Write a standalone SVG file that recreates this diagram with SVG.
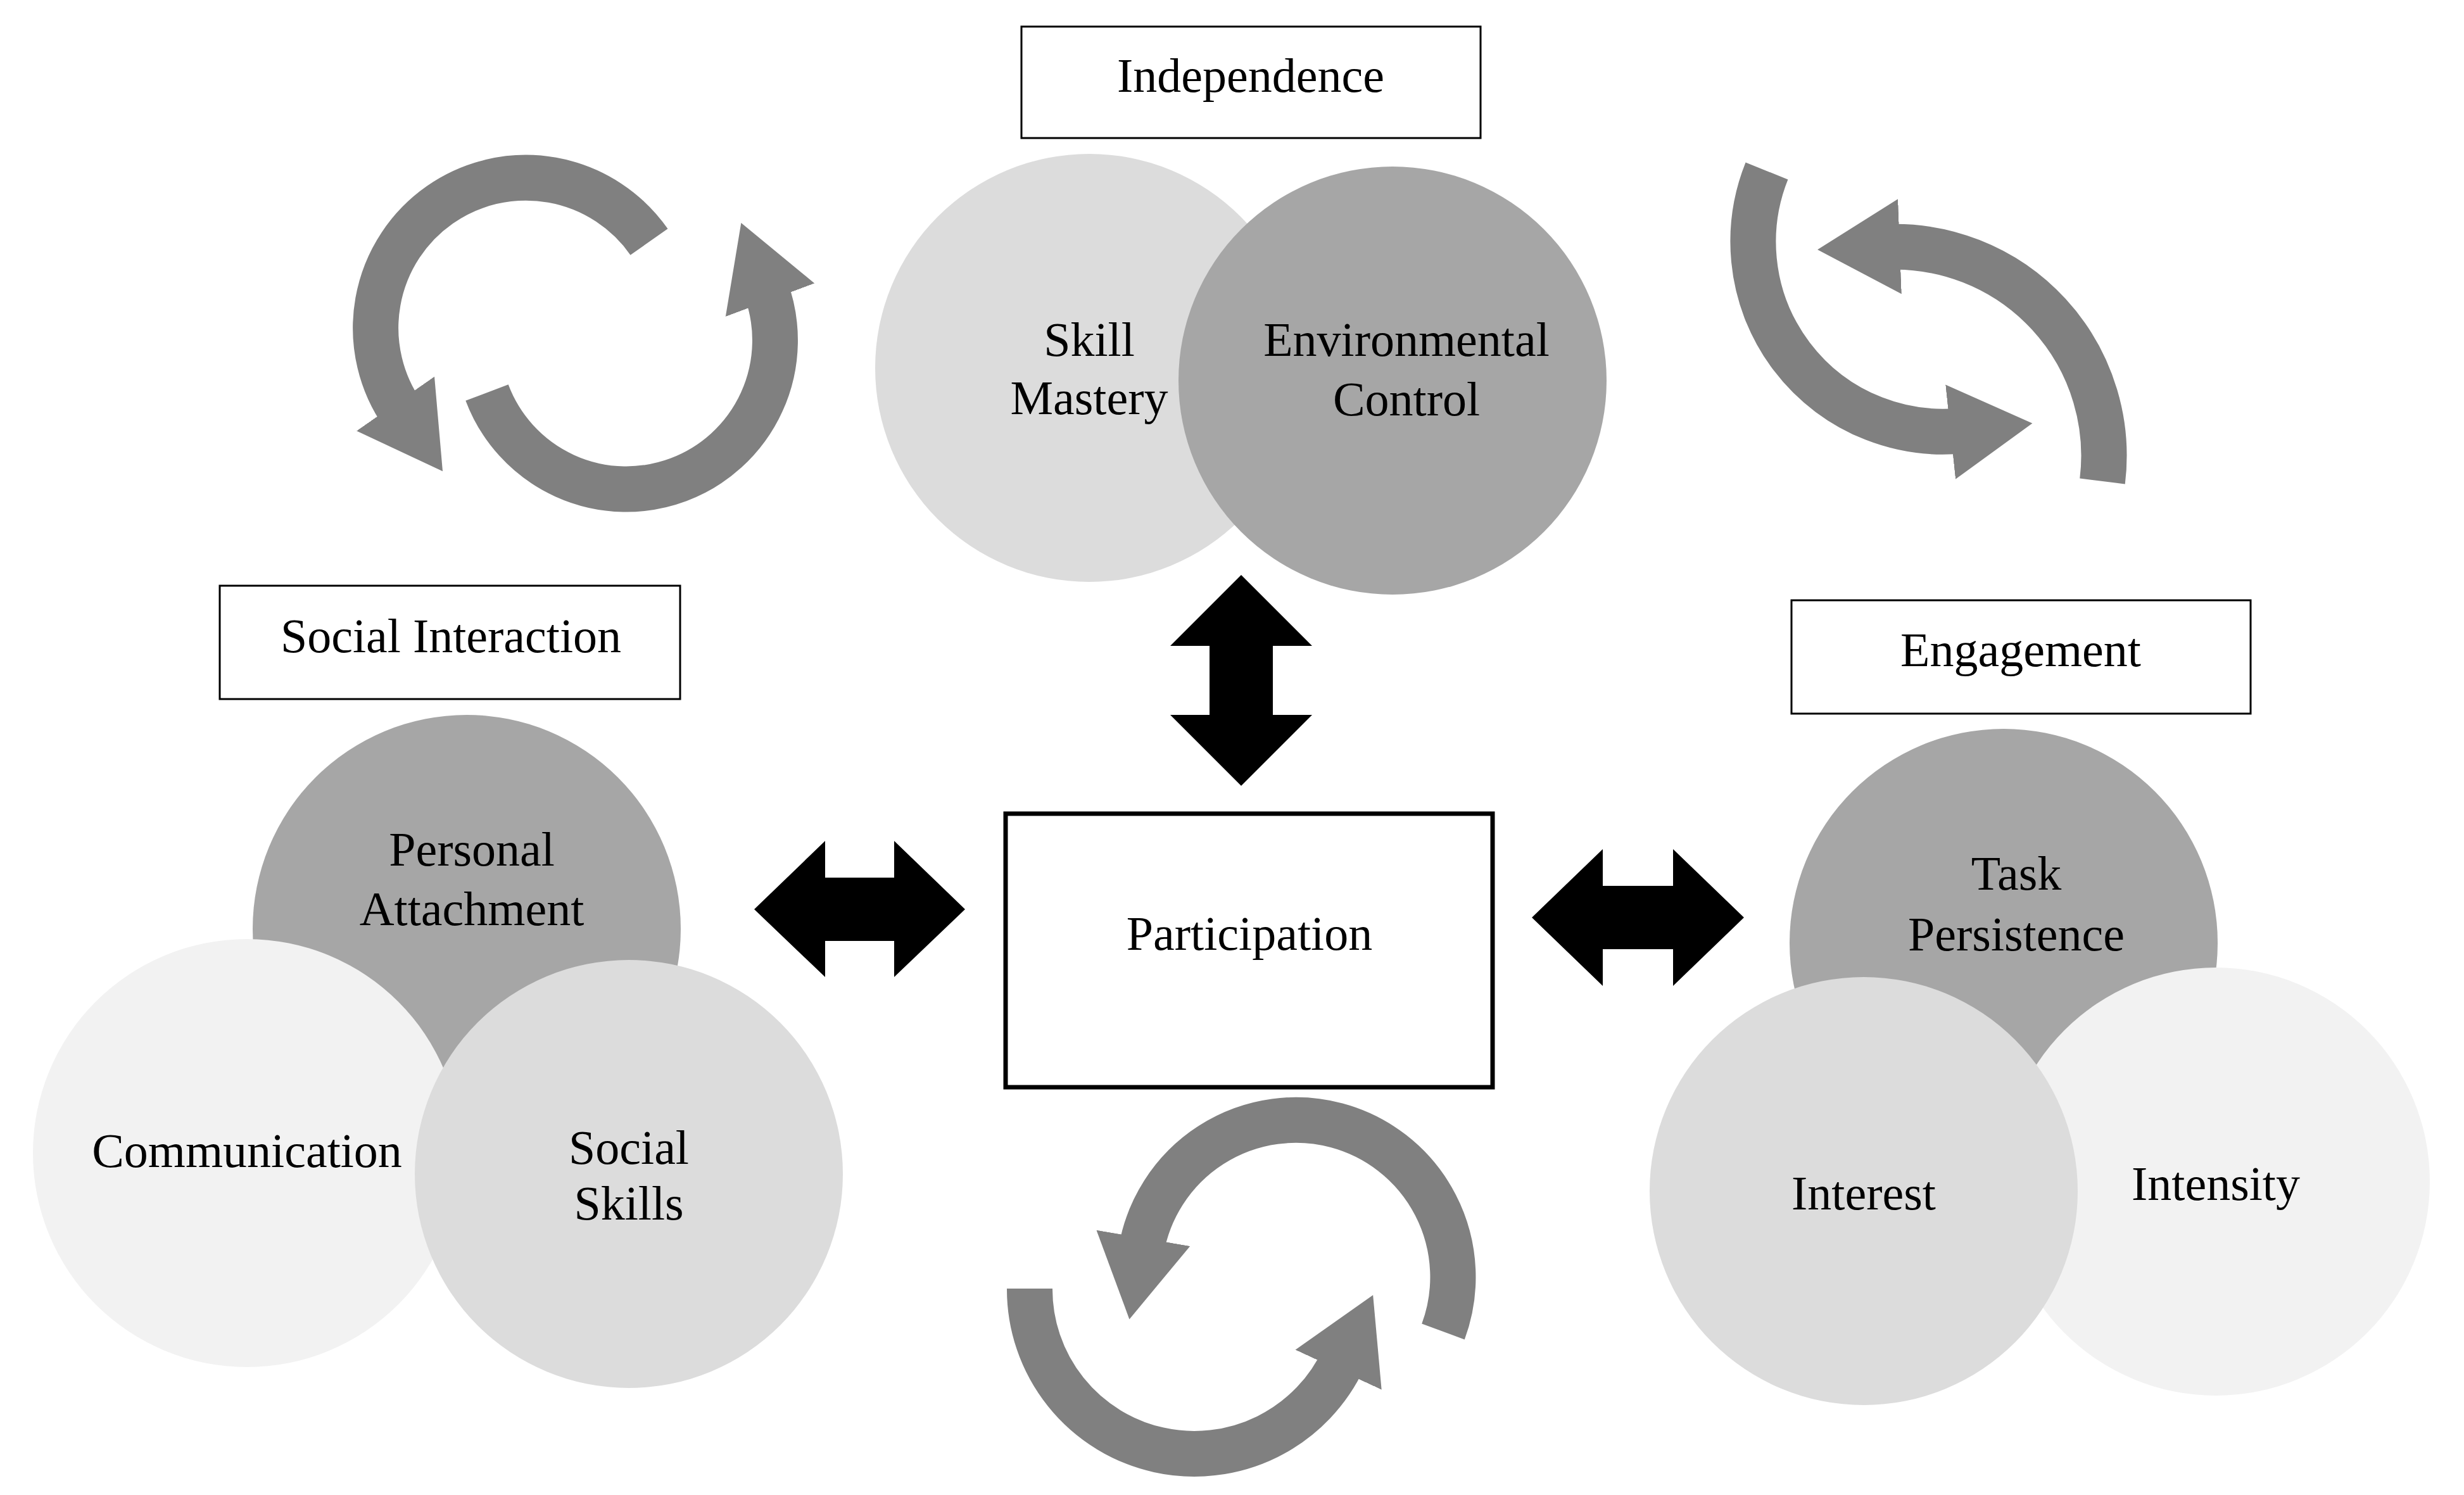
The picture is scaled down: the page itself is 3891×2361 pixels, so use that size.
<svg xmlns="http://www.w3.org/2000/svg" width="3891" height="2361" viewBox="0 0 3891 2361">
<defs>
<style>
.t{font-family:"Liberation Serif","Times New Roman",serif;font-size:76px;fill:#000;text-anchor:middle}
.box{fill:#fff;stroke:#000;stroke-width:3}
.rib{fill:none;stroke:#808080;stroke-width:72}
.blk{fill:#000}
</style>
<marker id="h" markerUnits="userSpaceOnUse" markerWidth="200" markerHeight="200" refX="20" refY="100" orient="auto" viewBox="0 0 200 200">
<polygon points="0,25 130,100 0,175" fill="#808080"/>
</marker>
</defs>
<g id="independence"><rect class="box" x="1613" y="42" width="725" height="176"/><text class="t" x="1975" y="145">Independence</text></g>
<g id="skill-mastery"><circle cx="1720" cy="581" r="338" fill="#dcdcdc"/><text class="t" x="1720" y="562">Skill</text><text class="t" x="1720" y="654">Mastery</text></g>
<g id="environmental-control"><circle cx="2199" cy="601" r="338" fill="#a6a6a6"/><text class="t" x="2221" y="562">Environmental</text><text class="t" x="2221" y="656">Control</text></g>
<g id="participation"><rect x="1588" y="1285" width="769" height="432" fill="#fff" stroke="#000" stroke-width="7"/><text class="t" x="1973" y="1500">Participation</text></g>
<g id="social-interaction"><rect class="box" x="347" y="925" width="727" height="179"/><text class="t" x="712" y="1030">Social Interaction</text></g>
<g id="personal-attachment"><circle cx="737" cy="1467" r="338" fill="#a6a6a6"/><text class="t" x="745" y="1367">Personal</text><text class="t" x="745" y="1461">Attachment</text></g>
<g id="communication"><circle cx="390" cy="1821" r="338" fill="#f2f2f2"/><text class="t" x="390" y="1843">Communication</text></g>
<g id="social-skills"><circle cx="993" cy="1854" r="338" fill="#dcdcdc"/><text class="t" x="993" y="1838">Social</text><text class="t" x="993" y="1926">Skills</text></g>
<g id="engagement"><rect class="box" x="2829" y="948" width="725" height="179"/><text class="t" x="3191" y="1052">Engagement</text></g>
<g id="task-persistence"><circle cx="3164" cy="1489" r="338" fill="#a6a6a6"/><text class="t" x="3184" y="1405">Task</text><text class="t" x="3184" y="1501">Persistence</text></g>
<g id="intensity"><circle cx="3499" cy="1866" r="338" fill="#f2f2f2"/><text class="t" x="3499" y="1895">Intensity</text></g>
<g id="interest"><circle cx="2943" cy="1881" r="338" fill="#dcdcdc"/><text class="t" x="2943" y="1910">Interest</text></g>
<g id="connectors">
<polygon class="blk" points="1960,908 2072,1020 2010,1020 2010,1129 2072,1129 1960,1241 1848,1129 1910,1129 1910,1020 1848,1020"/>
<polygon class="blk" points="1191,1436 1303,1328 1303,1386 1412,1386 1412,1328 1524,1436 1412,1543 1412,1486 1303,1486 1303,1543"/>
<polygon class="blk" points="2419,1449 2531,1341 2531,1399 2642,1399 2642,1341 2754,1449 2642,1557 2642,1499 2531,1499 2531,1557"/>
<path class="rib" d="M1025,382 A236,236 0 1 0 636,654" marker-end="url(#h)"/>
<path class="rib" d="M769,620 A230,230 0 0 0 1209,455" marker-end="url(#h)"/>
<path class="rib" d="M2790,270 A300,300 0 0 0 3100,680" marker-end="url(#h)"/>
<path class="rib" d="M3320,760 A330,330 0 0 0 2980,390" marker-end="url(#h)"/>
<path class="rib" d="M2279,2103 A248,248 0 1 0 1802,1975" marker-end="url(#h)"/>
<path class="rib" d="M1626,2035 A260,260 0 0 0 2122,2145" marker-end="url(#h)"/>
</g>
</svg>
